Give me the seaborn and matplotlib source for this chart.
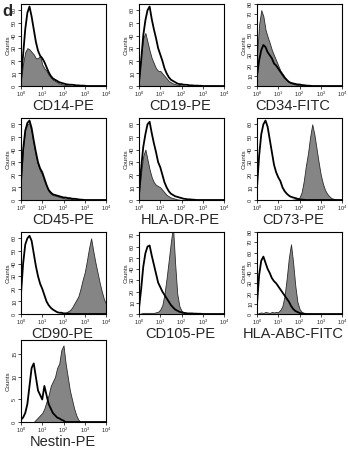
import numpy as np
import matplotlib
matplotlib.use("Agg")
import matplotlib.pyplot as plt
import seaborn as sns
from matplotlib.ticker import LogLocator, NullFormatter

# ---- data ----
DECADES = [0.0, 0.1, 0.2, 0.3, 0.4, 0.5, 0.6, 0.7, 0.8, 0.9,
           1.0, 1.1, 1.2, 1.3, 1.4, 1.5, 1.6, 1.7, 1.8, 1.9,
           2.0, 2.1, 2.2, 2.3, 2.4, 2.5, 2.6, 2.7, 2.8, 2.9,
           3.0, 3.1, 3.2, 3.3, 3.4, 3.5, 3.6, 3.7, 3.8, 3.9,
           4.0]

MARKERS = ["CD14-PE", "CD19-PE", "CD34-FITC",
           "CD45-PE", "HLA-DR-PE", "CD73-PE",
           "CD90-PE", "CD105-PE", "HLA-ABC-FITC",
           "Nestin-PE"]

CD14_OPEN = [5, 25, 45, 58, 63, 55, 45, 35, 28, 24,
             22, 19, 15, 11, 8, 6, 5, 4, 3, 2.5,
             2, 1.5, 1.2, 1, 1, 0.8, 0.5, 0.5, 0.3, 0.3,
             0.2, 0, 0, 0, 0, 0, 0, 0, 0, 0, 0]
CD14_FILL = [5, 18, 27, 30, 29, 27, 25, 22, 22, 24,
             17, 14, 12, 9, 7, 5, 4, 3, 2, 1.5,
             1, 0.8, 0.5, 0.3, 0.2, 0, 0, 0, 0, 0,
             0, 0, 0, 0, 0, 0, 0, 0, 0, 0, 0]

CD19_OPEN = [3, 20, 40, 52, 60, 63, 53, 45, 38, 30,
             25, 20, 14, 10, 7, 5, 4, 3, 2, 1.5,
             1.5, 1, 1, 0.8, 0.5, 0.5, 0.3, 0.3, 0.2, 0.2,
             0, 0, 0, 0, 0, 0, 0, 0, 0, 0, 0]
CD19_FILL = [5, 25, 38, 42, 35, 28, 22, 18, 14, 12,
             12, 10, 8, 6, 4, 3, 2, 1.5, 1, 0.8,
             0.5, 0.3, 0, 0, 0, 0, 0, 0, 0, 0,
             0, 0, 0, 0, 0, 0, 0, 0, 0, 0, 0]

CD34_OPEN = [10, 25, 35, 40, 38, 33, 30, 27, 22, 20,
             17, 14, 11, 8, 6, 4, 3, 2.5, 2, 1.5,
             1.5, 1, 0.8, 0.5, 0.3, 0.2, 0, 0, 0, 0,
             0, 0, 0, 0, 0, 0, 0, 0, 0, 0, 0]
CD34_FILL = [30, 60, 74, 68, 55, 48, 42, 35, 30, 25,
             20, 15, 12, 9, 6, 4, 3, 2, 1.5, 1,
             0.8, 0.5, 0.3, 0.2, 0, 0, 0, 0, 0, 0,
             0, 0, 0, 0, 0, 0, 0, 0, 0, 0, 0]

CD45_OPEN = [15, 40, 55, 61, 63, 57, 47, 38, 30, 25,
             22, 17, 12, 8, 6, 4.5, 4, 3.5, 3, 2.5,
             2, 2, 1.5, 1.5, 1, 1, 0.8, 0.5, 0.3, 0.2,
             0, 0, 0, 0, 0, 0, 0, 0, 0, 0, 0]
CD45_FILL = [18, 42, 56, 60, 61, 54, 44, 35, 28, 23,
             20, 15, 11, 7, 5, 4, 3.5, 3, 2.5, 2,
             1.5, 1.2, 1, 1, 0.8, 0.5, 0.3, 0.2, 0, 0,
             0, 0, 0, 0, 0, 0, 0, 0, 0, 0, 0]

HLADR_OPEN = [5, 25, 42, 52, 60, 62, 53, 45, 38, 30,
              26, 20, 14, 10, 7, 5, 4, 3, 2.5, 2,
              1.5, 1, 0.8, 0.5, 0.5, 0.3, 0.2, 0, 0, 0,
              0, 0, 0, 0, 0, 0, 0, 0, 0, 0, 0]
HLADR_FILL = [5, 22, 35, 40, 32, 24, 18, 14, 12, 11,
              10, 8, 6, 4, 3, 2, 1.5, 1, 0.5, 0.3,
              0, 0, 0, 0, 0, 0, 0, 0, 0, 0,
              0, 0, 0, 0, 0, 0, 0, 0, 0, 0, 0]

CD73_OPEN = [10, 35, 52, 60, 63, 58, 48, 38, 28, 22,
             18, 15, 10, 7, 5, 3.5, 2.5, 2, 1.5, 1,
             0.5, 0.3, 0.2, 0, 0, 0, 0, 0, 0, 0,
             0, 0, 0, 0, 0, 0, 0, 0, 0, 0, 0]
CD73_FILL = [0, 0, 0, 0, 0, 0, 0, 0, 0, 0,
             0, 0, 0, 0, 0, 0, 0, 0.3, 0.5, 1,
             2, 6, 15, 27, 37, 50, 60, 52, 41, 30,
             20, 13, 8, 5, 3, 1.5, 1, 0.5, 0, 0, 0]

CD90_OPEN = [16, 40, 55, 60, 62, 58, 48, 38, 30, 24,
             20, 15, 10, 7, 5, 3.5, 2.5, 1.5, 1, 1,
             0.5, 0.5, 0.3, 0.2, 0, 0, 0, 0, 0, 0,
             0, 0, 0, 0, 0, 0, 0, 0, 0, 0, 0]
CD90_FILL = [0, 0, 0, 0, 0, 0, 0, 0, 0, 0,
             0, 0, 0, 0, 0, 0, 0, 0, 0, 0.3,
             0.5, 1, 2, 3, 5, 8, 11, 14, 20, 27,
             33, 42, 52, 60, 50, 41, 33, 25, 18, 12, 8]

CD105_OPEN = [5, 22, 42, 54, 60, 61, 52, 44, 36, 28,
              24, 20, 17, 14, 11, 8, 6, 4, 3, 2,
              1.5, 1, 0.8, 0.5, 0.5, 0.5, 0.3, 0.3, 0.2, 0.2,
              0, 0, 0, 0, 0, 0, 0, 0, 0, 0, 0]
CD105_FILL = [0, 0.5, 1, 1, 1, 1, 1, 1, 1.5, 2,
              4, 8, 18, 32, 48, 64, 78, 45, 18, 7,
              3, 1.5, 1, 0.5, 0, 0, 0, 0, 0, 0,
              0, 0, 0, 0, 0, 0, 0, 0, 0, 0, 0]

HLAABC_OPEN = [10, 38, 52, 56, 50, 44, 40, 35, 32, 30,
               27, 24, 21, 18, 15, 12, 8, 5, 3, 2,
               1, 0.5, 0.3, 0, 0, 0, 0, 0, 0, 0,
               0, 0, 0, 0, 0, 0, 0, 0, 0, 0, 0]
HLAABC_FILL = [0, 1, 1.5, 1, 2, 1.5, 1, 2, 1.5, 2,
               2, 4, 8, 18, 35, 55, 68, 50, 28, 12,
               5, 2, 1, 0.5, 0, 0, 0, 0, 0, 0,
               0, 0, 0, 0, 0, 0, 0, 0, 0, 0, 0]

NESTIN_OPEN = [0.5, 1, 2, 4, 8, 12, 13, 10, 7, 6,
               5, 8, 6, 4, 3, 2, 1.5, 1, 0.8, 0.5,
               0.3, 0, 0, 0, 0, 0, 0, 0, 0, 0,
               0, 0, 0, 0, 0, 0, 0, 0, 0, 0, 0]
NESTIN_FILL = [0, 0, 0, 0, 0, 0, 0, 0.5, 1, 1.5,
               2, 3, 4.5, 6, 8, 9, 10, 12, 13, 16,
               17, 13, 10, 7, 5, 3, 1.5, 0.5, 0, 0,
               0, 0, 0, 0, 0, 0, 0, 0, 0, 0, 0]

OPEN_SERIES = [CD14_OPEN, CD19_OPEN, CD34_OPEN, CD45_OPEN, HLADR_OPEN,
               CD73_OPEN, CD90_OPEN, CD105_OPEN, HLAABC_OPEN, NESTIN_OPEN]
FILL_SERIES = [CD14_FILL, CD19_FILL, CD34_FILL, CD45_FILL, HLADR_FILL,
               CD73_FILL, CD90_FILL, CD105_FILL, HLAABC_FILL, NESTIN_FILL]

Y_MAX = [65, 65, 80, 65, 65, 65, 65, 73, 80, 18.2]
Y_STEP = [10, 10, 10, 10, 10, 10, 10, 10, 10, 5]
X_TICK_LABELS = ["$10^0$", "$10^1$", "$10^2$", "$10^3$", "$10^4$"]

# ---- style ----
sns.set_style("ticks")
plt.rcParams['font.family'] = ['Liberation Sans', 'DejaVu Sans']
plt.rcParams['mathtext.fontset'] = 'custom'
plt.rcParams['mathtext.rm'] = 'Liberation Sans'
plt.rcParams['mathtext.it'] = 'Liberation Sans'

fig = plt.figure(figsize=(3.48, 4.5), dpi=100)

lefts = [21 / 348, 139 / 348, 257 / 348]
label_x = [0.49, 0.48, 0.42]
tops = [4, 118, 232, 340]
w = 85 / 348
h = 82 / 450

x = 10 ** np.array(DECADES)

for i, name in enumerate(MARKERS):
    row, col = divmod(i, 3)
    bottom = 1 - (tops[row] + 82) / 450
    ax = fig.add_axes([lefts[col], bottom, w, h])
    ax.fill_between(x, FILL_SERIES[i], color='#858585', edgecolor='#2a2a2a',
                    linewidth=0.6, zorder=2)
    sns.lineplot(x=x, y=OPEN_SERIES[i], ax=ax, color='black', linewidth=1.3,
                 zorder=3)
    ax.set_xscale('log')
    ax.set_xlim(1, 1e4)
    ax.set_ylim(0, Y_MAX[i])
    ax.set_xticks([1, 10, 100, 1000, 10000])
    ax.set_xticklabels(X_TICK_LABELS, fontsize=4)
    ax.xaxis.set_minor_locator(LogLocator(base=10, subs=range(2, 10)))
    ax.xaxis.set_minor_formatter(NullFormatter())
    yt = np.arange(0, Y_MAX[i] + 0.01, Y_STEP[i])
    ax.set_yticks(yt)
    ax.set_yticklabels([f"{int(v)}" for v in yt], fontsize=4, rotation=90,
                       va='center')
    ax.tick_params(axis='both', which='major', length=2, width=0.6, pad=0.8)
    ax.tick_params(axis='x', which='minor', length=1, width=0.4)
    ax.set_ylabel("Counts", fontsize=4.5, labelpad=1)
    ax.set_xlabel(name, fontsize=10.5, labelpad=0)
    ax.xaxis.label.set_x(label_x[col])
    for s in ax.spines.values():
        s.set_linewidth(0.8)
        s.set_color('black')

fig.text(0.006, 0.992, "d", fontsize=12, fontweight='bold', va='top', ha='left')

fig.savefig("out.png", dpi=100)
